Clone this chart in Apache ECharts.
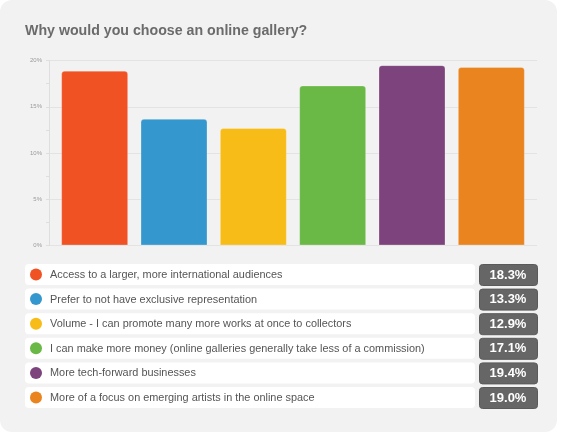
<!DOCTYPE html>
<html>
<head>
<meta charset="utf-8">
<script src="https://cdn.jsdelivr.net/npm/echarts@6/dist/echarts.min.js"></script>
<style>
  html, body { margin: 0; padding: 0; background: #ffffff; }
  #panel { position: absolute; left: 0; top: 0; width: 557px; height: 432px; background: #f2f2f2; border-radius: 12px; }
  #chart { position: absolute; left: 0; top: 0; width: 563px; height: 433px; }
</style>
</head>
<body>
<div id="panel"></div>
<div id="chart"></div>
<script>
var titleText = 'Why would you choose an online gallery?';
var categories = [
  'Access to a larger, more international audiences',
  'Prefer to not have exclusive representation',
  'Volume - I can promote many more works at once to collectors',
  'I can make more money (online galleries generally take less of a commission)',
  'More tech-forward businesses',
  'More of a focus on emerging artists in the online space'
];
// percentages printed in the legend boxes
var shares = [18.3, 13.3, 12.9, 17.1, 19.4, 19.0];
var barValues = [18.9, 13.7, 12.7, 17.3, 19.5, 19.3];
var colors = ['#f05223', '#3498cf', '#f7bc17', '#6ab845', '#7d437c', '#ea841f'];
var yTicks = [0, 5, 10, 15, 20];

var chart = echarts.init(document.getElementById('chart'), null, { renderer: 'canvas' });

var graphics = [];
categories.forEach(function (name, i) {
  var cy = 274.5 + i * 24.6;
  graphics.push({
    type: 'rect', left: 25, top: cy - 10.5, z: 1,
    shape: { width: 450, height: 21, r: 4 },
    style: { fill: '#ffffff' }
  });
  graphics.push({
    type: 'circle', z: 2,
    shape: { cx: 36, cy: cy, r: 6 },
    style: { fill: colors[i] }
  });
  graphics.push({
    type: 'text', x: 50, y: cy + 0.5, z: 2,
    style: { text: name, fill: '#555555', font: '10.9px "Liberation Sans", Arial, sans-serif', textVerticalAlign: 'middle', verticalAlign: 'middle' }
  });
  graphics.push({
    type: 'rect', left: 479, top: cy - 10.5, z: 1,
    shape: { width: 58, height: 21, r: 3 },
    style: { fill: '#666666', stroke: '#5a5a5a', lineWidth: 1 }
  });
  graphics.push({
    type: 'text', x: 508, y: cy + 0.5, z: 2,
    style: { text: shares[i].toFixed(1) + '%', fill: '#ffffff', font: 'bold 13px "Liberation Sans", Arial, sans-serif', textAlign: 'center', align: 'center', textVerticalAlign: 'middle', verticalAlign: 'middle' }
  });
});

var option = {
  backgroundColor: 'transparent',
  animation: false,
  title: {
    text: titleText, left: 20, top: 19,
    textStyle: { color: '#6b6b6b', fontSize: 14.2, fontWeight: 'bold', fontFamily: '"Liberation Sans", Arial, sans-serif' }
  },
  grid: [
    { left: 49, right: 26, top: 60.5, bottom: 187.5 },
    { left: 55, right: 32, top: 60.5, bottom: 187.5 }
  ],
  xAxis: [
    { type: 'category', gridIndex: 0, data: categories, show: false },
    { type: 'category', gridIndex: 1, data: categories, axisLine: { show: false }, axisTick: { show: false }, axisLabel: { show: false } }
  ],
  yAxis: [
    {
      type: 'value', gridIndex: 0, min: yTicks[0], max: yTicks[yTicks.length - 1], interval: 5,
      axisLabel: { formatter: '{value}%', fontSize: 6, color: '#9a9a9a', margin: 7, fontFamily: '"Liberation Sans", Arial, sans-serif' },
      axisLine: { show: true, lineStyle: { color: '#dedede' } },
      axisTick: { show: true, length: 3, lineStyle: { color: '#dedede' } },
      minorTick: { show: true, splitNumber: 2, length: 3, lineStyle: { color: '#dedede' } },
      splitLine: { show: true, lineStyle: { color: '#e3e3e3' } }
    },
    {
      type: 'value', gridIndex: 1, min: yTicks[0], max: yTicks[yTicks.length - 1], interval: 5, show: false,
      splitLine: { show: false }
    }
  ],
  series: [{
    type: 'bar', xAxisIndex: 1, yAxisIndex: 1, barWidth: 67, z: 3,
    data: barValues.map(function (v, i) {
      return { value: v, itemStyle: { color: colors[i], borderRadius: [3, 3, 0, 0], borderColor: 'rgba(255,255,255,0.25)', borderWidth: 1 } };
    })
  }],
  graphic: graphics
};
chart.setOption(option);
</script>
</body>
</html>
